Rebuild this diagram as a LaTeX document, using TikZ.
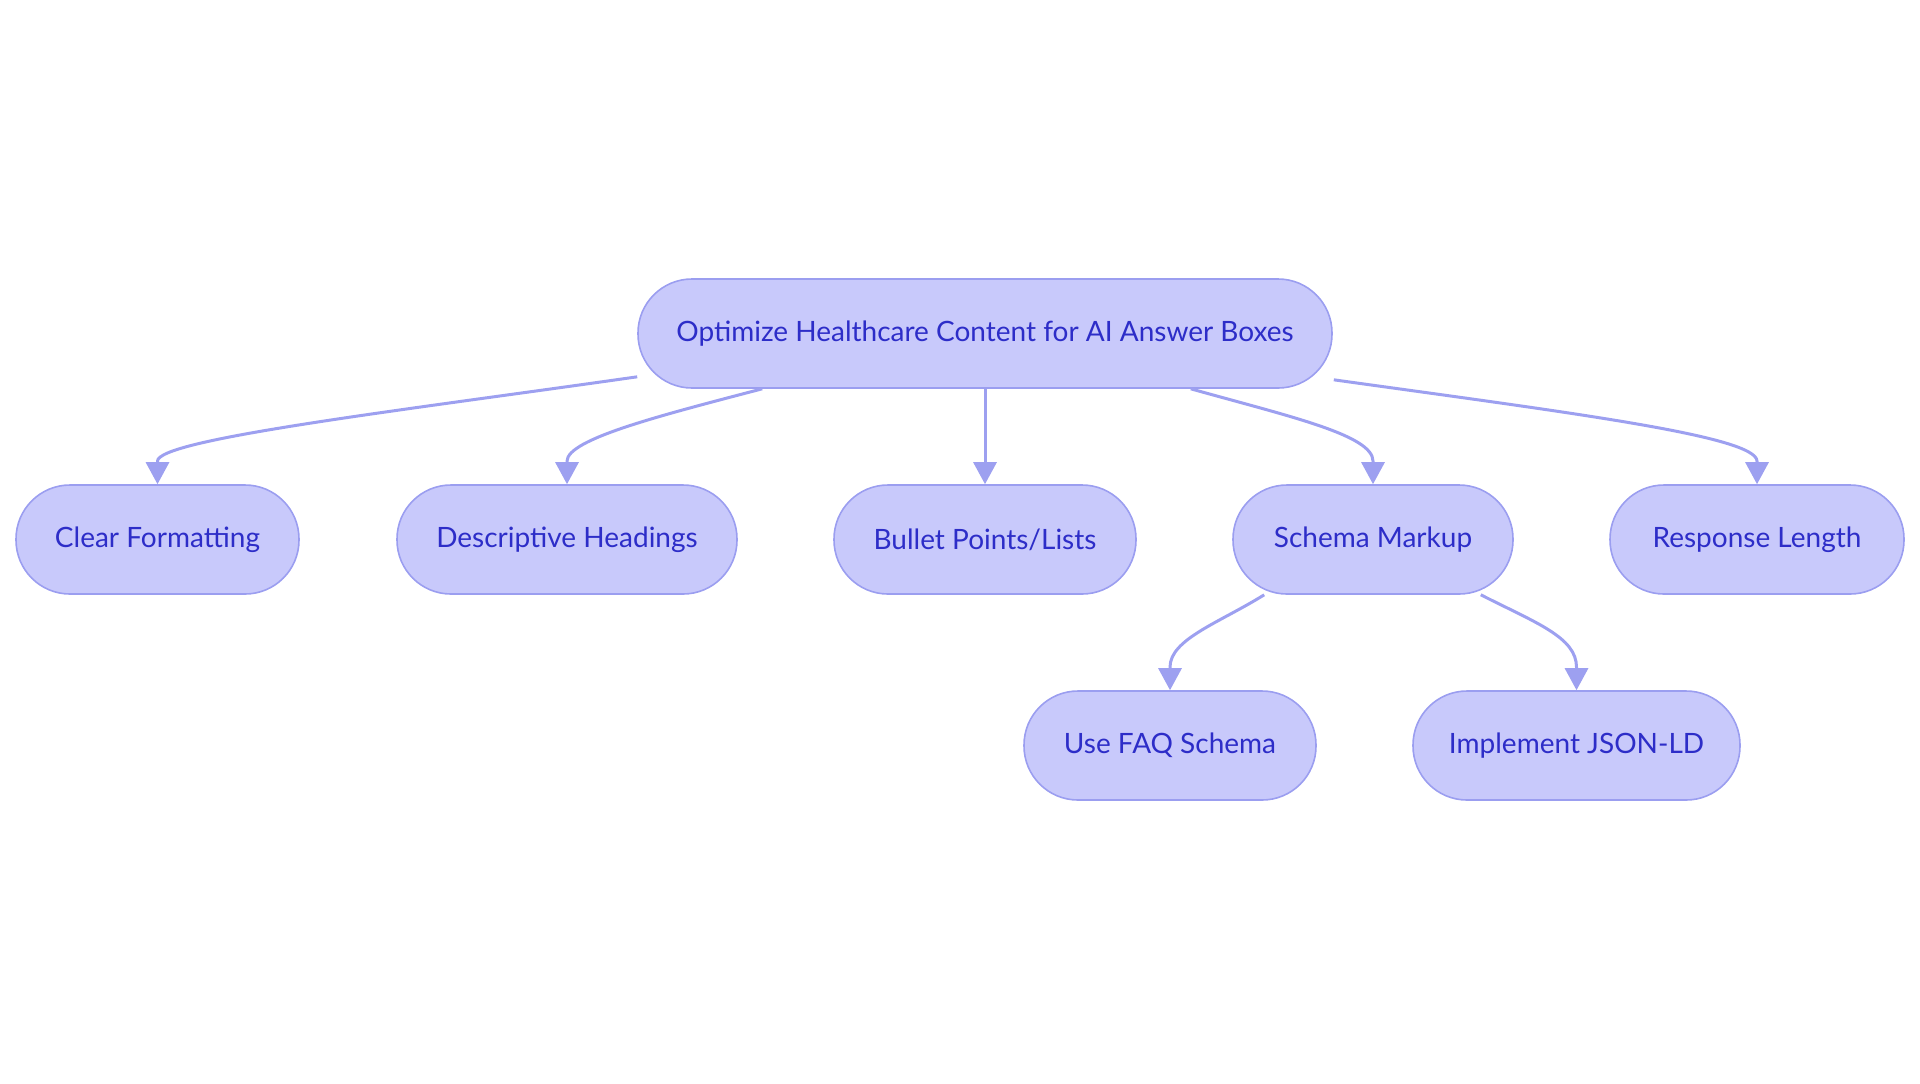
\documentclass[tikz,border=0pt]{standalone}
\usepackage{fontspec}
\setmainfont{Lato}
\usetikzlibrary{arrows.meta,calc}
\definecolor{nodefill}{RGB}{200,201,251}
\definecolor{nodeline}{RGB}{155,158,240}
\definecolor{edgecol}{RGB}{157,160,240}
\definecolor{txtcol}{RGB}{45,45,200}
\tikzset{
  box/.style={draw=nodeline, line width=0.8pt, fill=nodefill, rounded corners=27pt,
    minimum height=54.5pt, inner sep=0pt, text=txtcol, font=\fontsize{14pt}{16pt}\selectfont},
  edge/.style={draw=edgecol, line width=1.5pt, -{Triangle[length=11pt,width=11.5pt]}}
}
\begin{document}
\begin{tikzpicture}[x=0.5pt,y=-0.5pt]
\useasboundingbox (0,0) rectangle (1920,1083);
\node[box, minimum width=347pt] (root) at (985,333.5) {Optimize Healthcare Content for AI Answer Boxes};
\node[box, minimum width=141.5pt] (clear) at (157.5,539.5) {Clear Formatting};
\node[box, minimum width=170pt] (desc) at (567,539.5) {Descriptive Headings};
\node[box, minimum width=151pt] (bullet) at (985,539.5) {Bullet Points/Lists};
\node[box, minimum width=140pt] (schema) at (1373,539.5) {Schema Markup};
\node[box, minimum width=147pt] (resp) at (1757,539.5) {Response Length};
\node[box, minimum width=146pt] (faq) at (1170,745.5) {Use FAQ Schema};
\node[box, minimum width=163.5pt] (json) at (1576.5,745.5) {Implement JSON-LD};

\coordinate (s1) at ($(root.south west)+(0,-12)$);
\coordinate (s2) at ($(root.south west)+(125,0)$);
\coordinate (s4) at ($(root.south east)+(-142,0)$);
\coordinate (s5) at ($(root.south east)+(1,-9)$);
\coordinate (s6) at ($(schema.south west)+(32,0)$);
\coordinate (s7) at ($(schema.south east)+(-33,0)$);

\draw[edge] (s1) .. controls ($(s1)+(-238,34)$) and ($(clear.north)+(0,-45)$) .. ($(clear.north)+(0,-23)$) -- (clear.north);
\draw[edge] (s2) .. controls ($(s2)+(-103,27)$) and ($(desc.north)+(0,-45)$) .. ($(desc.north)+(0,-23)$) -- (desc.north);
\draw[edge] (root.south) -- (bullet.north);
\draw[edge] (s4) .. controls ($(s4)+(100,28)$) and ($(schema.north)+(0,-49)$) .. ($(schema.north)+(0,-23)$) -- (schema.north);
\draw[edge] (s5) .. controls ($(s5)+(237,33)$) and ($(resp.north)+(0,-48)$) .. ($(resp.north)+(0,-23)$) -- (resp.north);
\draw[edge] (s6) .. controls ($(s6)+(-45,28)$) and ($(faq.north)+(0,-51)$) .. ($(faq.north)+(0,-23)$) -- (faq.north);
\draw[edge] (s7) .. controls ($(s7)+(55,28)$) and ($(json.north)+(0,-53)$) .. ($(json.north)+(0,-23)$) -- (json.north);
\end{tikzpicture}
\end{document}
